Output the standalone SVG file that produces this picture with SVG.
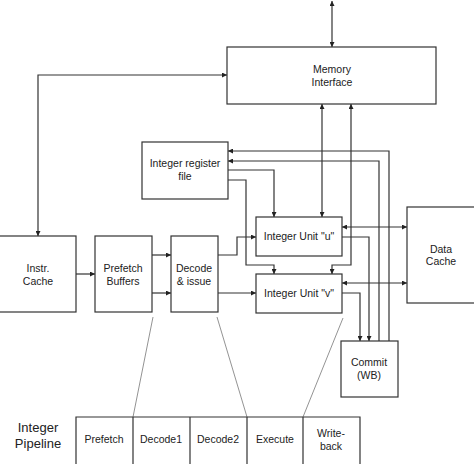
<svg xmlns="http://www.w3.org/2000/svg" width="474" height="464" viewBox="0 0 474 464">
<style>
.box{fill:#fff;stroke:#333;stroke-width:1.2}
.ln{fill:none;stroke:#333;stroke-width:1.2}
.fn{fill:none;stroke:#777;stroke-width:0.8}
text{font-family:"Liberation Sans",Arial,sans-serif;font-size:10.5px;fill:#222;text-anchor:middle}
.big{font-size:13px}
</style>
<defs>
<marker id="a" viewBox="0 0 10 10" refX="10" refY="5" markerWidth="6" markerHeight="5" orient="auto-start-reverse" markerUnits="userSpaceOnUse"><path d="M0,0 L10,5 L0,10 z" fill="#222"/></marker>
</defs>
<rect width="474" height="464" fill="#fff"/>
<g id="connectors">
<path class="ln" d="M332,1 L332,47" marker-start="url(#a)" marker-end="url(#a)"/>
<path class="ln" d="M227,75 L38,75 L38,236" marker-start="url(#a)" marker-end="url(#a)"/>
<path class="ln" d="M322,104 L322,217" marker-start="url(#a)" marker-end="url(#a)"/>
<path class="ln" d="M351,104 L351,265 L332,265 L332,274" marker-start="url(#a)" marker-end="url(#a)"/>
<path class="ln" d="M228,170 L274,170 L274,217" marker-end="url(#a)"/>
<path class="ln" d="M228,180 L246,180 L246,265 L274,265 L274,274" marker-end="url(#a)"/>
<path class="ln" d="M389,341 L389,151 L228,151" marker-end="url(#a)"/>
<path class="ln" d="M379,341 L379,161 L228,161" marker-end="url(#a)"/>
<path class="ln" d="M342,237 L369,237 L369,341" marker-end="url(#a)"/>
<path class="ln" d="M342,293 L360,293 L360,341" marker-end="url(#a)"/>
<path class="ln" d="M342,227 L407,227" marker-start="url(#a)" marker-end="url(#a)"/>
<path class="ln" d="M342,283 L407,283" marker-start="url(#a)" marker-end="url(#a)"/>
<path class="ln" d="M76,274 L95,274" marker-end="url(#a)"/>
<path class="ln" d="M152,255 L171,255" marker-end="url(#a)"/>
<path class="ln" d="M152,293 L171,293" marker-end="url(#a)"/>
<path class="ln" d="M218,255 L237,255 L237,237 L256,237" marker-end="url(#a)"/>
<path class="ln" d="M218,293 L256,293" marker-end="url(#a)"/>
<path class="fn" d="M153,317 L133,417"/>
<path class="fn" d="M217,317 L247,417"/>
<path class="fn" d="M343,318 L303,417"/>
</g>
<g id="memory-interface"><rect class="box" x="227" y="47" width="209" height="57"/><text x="332" y="73">Memory</text><text x="332" y="86">Interface</text></g>
<g id="register-file"><rect class="box" x="142" y="142" width="86" height="57"/><text x="185" y="167">Integer register</text><text x="185" y="180">file</text></g>
<g id="iu-u"><rect class="box" x="256" y="217" width="86" height="39"/><text x="299" y="240">Integer Unit "u"</text></g>
<g id="iu-v"><rect class="box" x="256" y="274" width="86" height="39"/><text x="299" y="297">Integer Unit "v"</text></g>
<g id="data-cache"><rect class="box" x="407" y="207" width="80" height="96"/><text x="441" y="253">Data</text><text x="441" y="265">Cache</text></g>
<g id="commit"><rect class="box" x="341" y="341" width="57" height="56"/><text x="369" y="366">Commit</text><text x="369" y="379">(WB)</text></g>
<g id="instr-cache"><rect class="box" x="-2" y="236" width="78" height="76"/><text x="38" y="272">Instr.</text><text x="38" y="285">Cache</text></g>
<g id="prefetch-buffers"><rect class="box" x="95" y="236" width="57" height="76"/><text x="123" y="272">Prefetch</text><text x="123" y="285">Buffers</text></g>
<g id="decode-issue"><rect class="box" x="171" y="236" width="47" height="76"/><text x="194" y="272">Decode</text><text x="194" y="285">&amp; issue</text></g>
<g id="pipeline">
<path class="ln" d="M76,466 L76,417 L360,417 L360,466 M133,417 L133,466 M190,417 L190,466 M247,417 L247,466 M303,417 L303,466"/>
<text class="big" x="38" y="432">Integer</text><text class="big" x="38" y="448">Pipeline</text>
<text x="104" y="443">Prefetch</text>
<text x="161" y="443">Decode1</text>
<text x="218" y="443">Decode2</text>
<text x="275" y="443">Execute</text>
<text x="331" y="437">Write-</text><text x="331" y="450">back</text>
</g>
</svg>
